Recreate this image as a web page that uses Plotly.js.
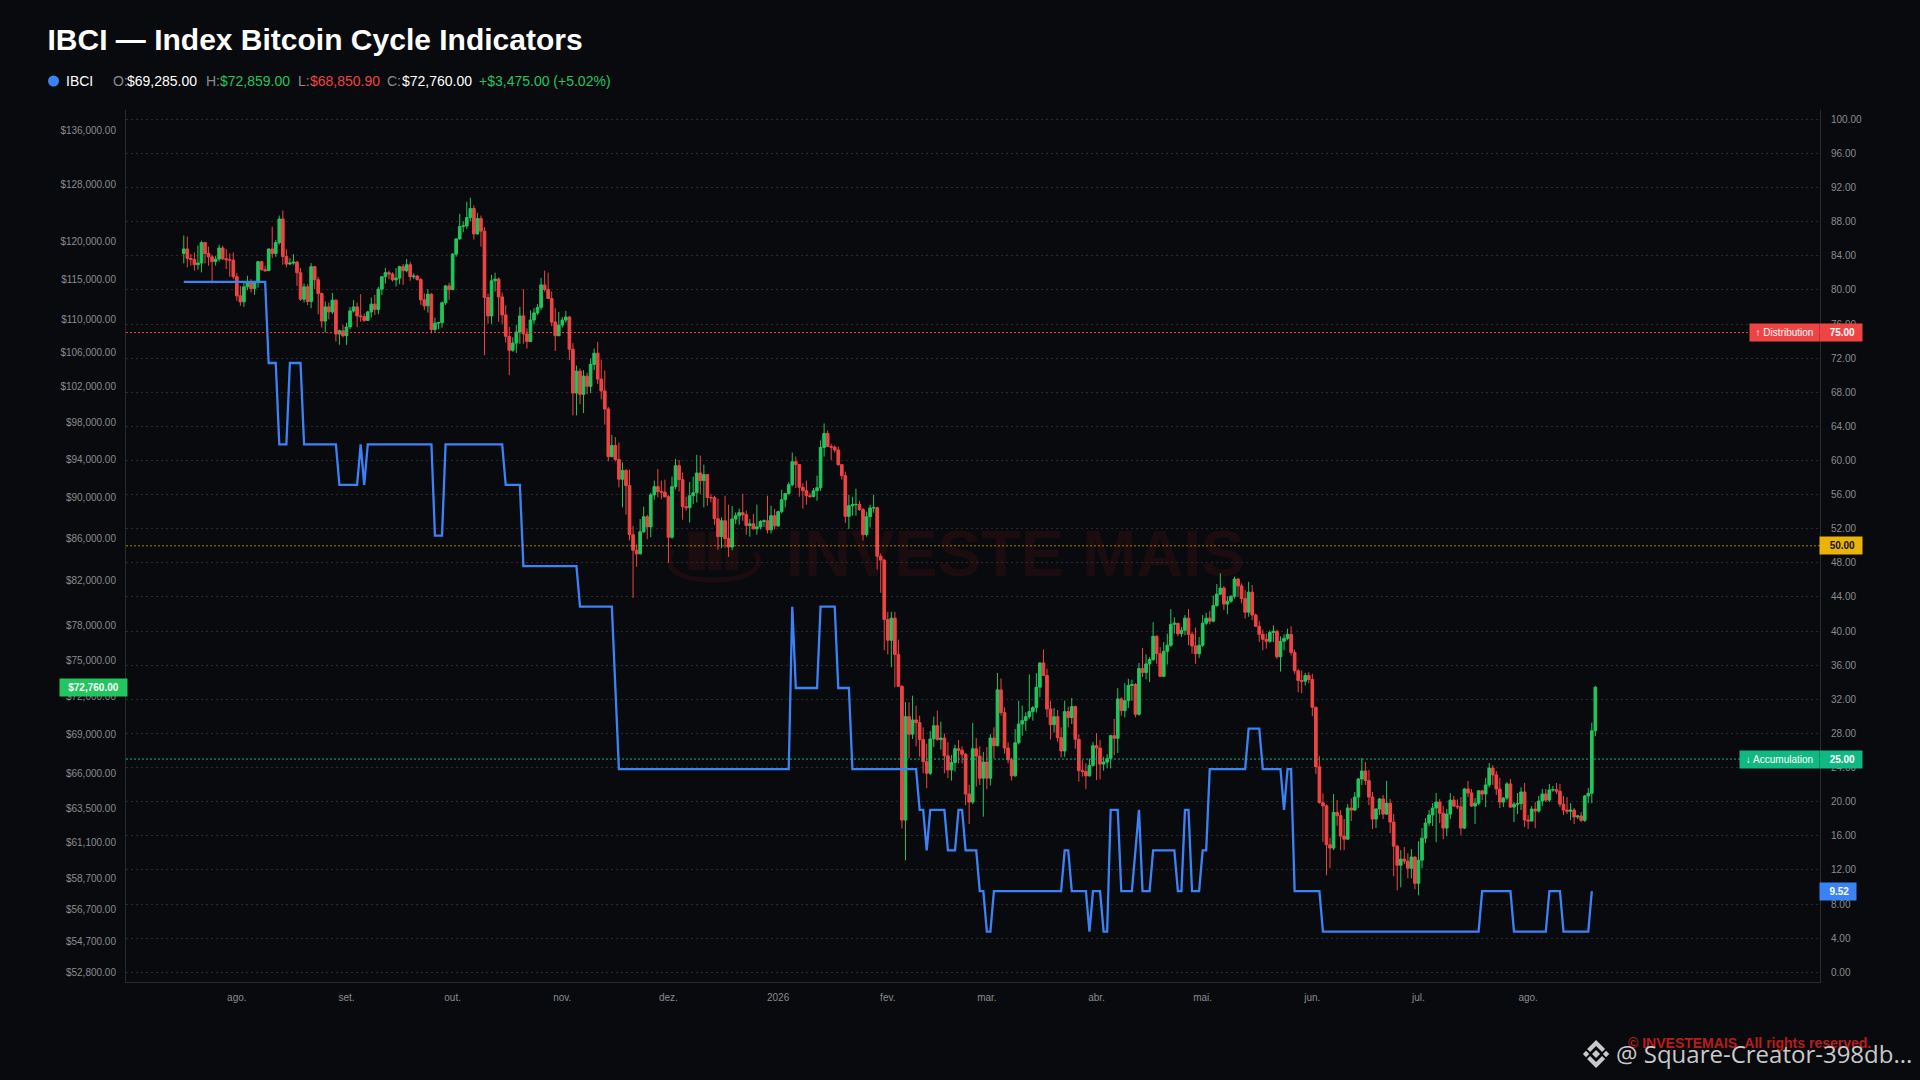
<!DOCTYPE html>
<html>
<head>
<meta charset="utf-8">
<script src="https://cdn.plot.ly/plotly-3.0.1.min.js"></script>
<style>html,body{margin:0;padding:0;background:#090a0d;overflow:hidden}#chart{width:1920px;height:1080px}</style>
</head>
<body>
<div id="chart"></div>
<script>
const firstDay = '2025-07-17';
const opens = [
118450,119050,117790,117660,116960,117180,119900,118450,118000,117390,
117700,119180,117740,117610,117570,115390,112940,112180,114090,114650,
113870,114650,117350,116310,116180,119050,118450,119900,123130,118050,
117050,117180,117310,115920,112520,114090,112230,116700,115000,113230,
109790,111550,110920,112400,108200,108590,108000,109060,111050,111550,
110420,110340,109870,110920,111890,111220,113790,115390,115920,115740,
115000,115220,116700,116180,116960,115390,115480,115040,112440,111680,
113150,108750,109530,109600,112060,114210,113740,118360,120400,122080,
122170,123320,124590,121080,123180,121450,112730,110420,114870,115090,
112810,110550,107920,106240,107100,108440,110420,108200,107290,109910,
110800,111470,114340,113740,112600,109660,108000,109290,109910,110290,
106360,101260,103780,101110,103200,102030,104560,105890,102860,101490,
99460,94270,95460,93980,91910,92810,91250,86360,84860,84520,
86640,88120,87120,90310,91150,90630,90590,90120,86110,91150,
93320,91870,89120,89020,90220,90520,92560,91770,92390,90050,
90020,87920,86170,87720,85990,85170,87890,88220,88520,88320,
87250,87420,86930,87120,87650,87720,86830,88220,87220,88620,
89820,90450,91350,93740,93430,91080,90730,90220,90150,90730,
91040,95250,96760,95350,95280,94990,93430,92280,88160,89220,
89320,89350,88820,86360,88120,88990,89020,84290,83930,78510,
76700,78630,75490,72840,62670,70390,69020,70130,69920,68600,
66920,66050,68650,69680,68600,68720,67360,66300,66860,67900,
67780,67480,64530,63950,67900,67340,65690,66890,65690,68720,
68130,72540,70710,67950,67060,65860,68350,69810,70080,70390,
70790,71110,72760,74770,73720,71000,69760,70390,68750,67730,
70790,70320,71190,68620,66250,66180,65860,66640,68130,67950,
66740,66890,67160,68900,68700,71810,70870,71670,72900,72980,
70580,74300,73970,74690,75060,77040,75550,73650,75750,76270,
78090,78180,77270,77560,78630,77210,76210,75550,76270,78180,
78630,78360,79760,80780,81330,79880,80140,80590,82160,81520,
80380,79160,80960,78900,77920,77210,76780,76610,77380,77470,
75290,76610,76870,77210,75660,74110,73310,73250,73720,73390,
71140,66540,63900,63680,60950,60730,63210,62980,61550,61340,
63520,63380,64310,65630,66220,65510,64310,62740,63450,64170,
63090,63870,62530,60860,59570,59980,59840,59370,60120,58370,
59910,61410,62460,63030,63520,63950,63160,62110,63090,64090,
63660,63610,62110,64900,64610,63660,63870,64760,64530,65190,
66440,65930,64900,63950,64240,65270,63590,63800,63840,64680,
62670,62600,63450,63310,64020,64530,64090,64830,64850,64730,
63800,63380,63290,63380,62890,62960,62650,64390,64580,69285
];
const highs = [
120860,120720,118360,118590,119500,120180,120000,119360,118270,118140,
119630,119500,119050,118450,118590,115870,114210,114650,115520,115090,
114870,117480,117480,116830,119100,122080,120270,123600,124310,119050,
117830,118360,117480,116530,114520,114430,117180,116830,115390,113360,
112230,112100,113320,112480,108750,109290,109580,111550,112400,112100,
113150,110710,111050,112730,113060,114090,115430,116530,116180,115960,
116530,116830,117050,117700,117350,115830,115650,115220,113230,113790,
113280,110210,109700,112230,114340,114610,118500,120500,123840,122800,
125530,126100,125020,123980,123600,122000,113230,115650,115920,115300,
113360,111760,109060,107800,109290,111550,113790,108900,111130,111390,
111890,115220,116180,115920,113490,111390,110920,110290,111050,110420,
107100,104440,104090,103900,103590,105260,106440,107260,105140,103860,
99690,96600,96360,95780,93680,92980,92910,87220,85430,87890,
89120,88320,90520,91770,92980,91770,91870,90310,92180,94030,
93920,92600,90120,91630,92180,94460,94390,93430,92460,90380,
90220,89920,88060,90220,89320,89190,88550,88920,90420,88720,
87890,88390,89320,87790,87850,90220,89220,88890,88720,90830,
90520,91600,94710,94280,93500,91490,91770,90520,91010,92280,
96000,97860,97080,95640,95460,95350,93500,92700,90310,90120,
90940,89720,88990,88620,89320,90310,89120,84560,84050,79190,
79190,79190,76760,72900,71530,71530,72070,71270,70470,69550,
68280,69280,70390,70870,70000,69070,68400,67410,68200,68570,
68080,67580,65200,69890,68720,68080,67660,68030,69020,69550,
73940,73480,71140,68400,67220,69420,71670,71270,70740,73810,
71240,73920,74800,75920,74280,71670,71080,70920,69550,71670,
71190,71880,71270,69020,67040,66790,67160,68420,69090,68570,
67290,67480,68970,70210,72680,71940,73090,73450,73370,73090,
74770,76030,75490,75260,78270,77130,76120,76550,77270,79430,
78690,78210,77860,78900,79430,77410,77800,76980,78900,79100,
79280,80650,81700,82690,81520,80590,80680,82380,82250,81760,
81150,81910,81610,79040,78390,77620,77270,77560,78000,77620,
77040,77210,77710,77920,75900,74270,74140,73940,73990,73860,
71190,67340,64580,63780,61430,64530,64090,63380,62740,63800,
64210,64680,65710,67190,66890,66300,64680,63520,64240,64460,
65490,64170,63090,60930,60590,60800,60380,60660,60160,61200,
62110,62810,63380,63870,64600,64160,63660,63450,64600,64390,
64140,64310,64980,65490,64900,64240,64800,64830,65710,66810,
66660,66220,65710,64310,65410,65630,63950,64600,65020,65340,
63020,63660,63950,64390,64900,64900,65270,65120,65340,65270,
64390,64310,63870,63520,63030,63230,64460,64970,69920,72859
];
const lows = [
117140,116610,116830,116180,116310,115960,117140,116830,114520,116830,
117390,117570,116400,115390,115090,112310,111680,111550,113650,113360,
113060,114000,116180,116050,116180,117830,118000,119630,116960,116610,
116960,116960,114210,112310,112100,111760,111390,113790,110630,108980,
108400,110000,110630,107290,106900,107800,106900,108790,110840,109060,
109700,109700,109800,110210,110550,110630,113060,114520,115090,114780,
114130,114430,114340,115960,114870,115090,114870,111800,111130,110840,
108280,108350,108790,108980,111800,112440,113650,118000,120310,121310,
121760,122800,120310,120990,119360,105650,109450,109450,113490,109700,
109450,107170,103320,106050,105930,107020,107020,106440,107230,109450,
110550,111130,113490,112520,109160,106160,107920,108980,109580,105070,
98750,98750,99980,99010,101110,101260,103900,102280,100550,97740,
93770,94200,93770,91080,89050,88320,85800,80440,83300,84450,
86530,85920,86110,89820,90050,89880,90050,83670,85980,90870,
90660,87820,88720,87550,89390,89550,90380,89050,89220,89550,
87320,84920,85050,85110,84230,84860,87390,87320,87720,86360,
86170,86860,86360,86860,87120,86480,86480,86890,87120,88450,
89050,90310,91180,91010,90120,88920,89320,89990,90050,89720,
90730,94280,95280,93920,94710,93320,91870,87520,86920,88220,
88220,88720,85800,86170,87060,88520,83050,80900,75840,75490,
74410,72760,72780,62080,59900,67160,68650,68080,67290,66050,
64950,65930,68030,68520,67830,66050,65690,65510,66180,66790,
66790,63730,62390,63800,65070,65190,62910,64880,65150,67160,
68080,70470,67530,66790,65510,65810,68230,68900,69280,70210,
70080,70710,71940,73670,70340,68600,69150,68400,67240,67290,
69550,69810,67900,65440,65810,64880,65810,66540,65560,65610,
66250,66420,66420,67410,67580,70470,70340,71090,71670,70340,
70470,73590,73400,73180,74920,74690,73600,73590,74640,76120,
77270,77040,76980,77130,76270,75550,74690,75200,76120,78000,
78090,78270,79640,80680,79340,78980,80000,80380,80530,79940,
78600,78750,78450,77860,76550,75840,75980,76470,76550,75120,
74050,75840,76700,75400,73860,72350,72270,72900,73090,70430,
66000,63850,61150,58900,59370,60590,62270,60590,60590,61300,
62600,63310,63520,65190,65190,63730,62040,62110,63020,62740,
63050,61750,58840,57910,58110,59640,58700,58700,57980,57590,
59370,61060,62250,62250,61130,62460,61340,61550,62740,63610,
63450,61610,62040,64310,63590,62390,63730,64090,63590,65020,
65190,64460,63520,63590,64090,63520,62530,63090,63380,62180,
62040,62600,62110,63190,63660,63950,63950,64690,64530,63590,
63020,63090,62670,62390,62740,62530,62530,63870,63870,68850.9
];
const closes = [
119050,117790,117660,116960,117180,119900,118450,118000,117390,117700,
119180,117740,117610,117570,115390,112940,112180,114090,114650,113870,
114650,117350,116310,116180,119050,118450,119900,123130,118050,117050,
117180,117310,115920,112520,114090,112230,116700,115000,113230,109790,
111550,110920,112400,108200,108590,108000,109060,111050,111550,110420,
110340,109870,110920,111890,111220,113790,115390,115920,115740,115000,
115220,116700,116180,116960,115390,115480,115040,112440,111680,113150,
108750,109530,109600,112060,114210,113740,118360,120400,122080,122170,
123320,124590,121080,123180,121450,112730,110420,114870,115090,112810,
110550,107920,106240,107100,108440,110420,108200,107290,109910,110800,
111470,114340,113740,112600,109660,108000,109290,109910,110290,106360,
101260,103780,101110,103200,102030,104560,105890,102860,101490,99460,
94270,95460,93980,91910,92810,91250,86360,84860,84520,86640,
88120,87120,90310,91150,90630,90590,90120,86110,91150,93320,
91870,89120,89020,90220,90520,92560,91770,92390,90050,90020,
87920,86170,87720,85990,85170,87890,88220,88520,88320,87250,
87420,86930,87120,87650,87720,86830,88220,87220,88620,89820,
90450,91350,93740,93430,91080,90730,90220,90150,90730,91040,
95250,96760,95350,95280,94990,93430,92280,88160,89220,89320,
89350,88820,86360,88120,88990,89020,84290,83930,78510,76700,
78630,75490,72840,62670,70390,69020,70130,69920,68600,66920,
66050,68650,69680,68600,68720,67360,66300,66860,67900,67780,
67480,64530,63950,67900,67340,65690,66890,65690,68720,68130,
72540,70710,67950,67060,65860,68350,69810,70080,70390,70790,
71110,72760,74770,73720,71000,69760,70390,68750,67730,70790,
70320,71190,68620,66250,66180,65860,66640,68130,67950,66740,
66890,67160,68900,68700,71810,70870,71670,72900,72980,70580,
74300,73970,74690,75060,77040,75550,73650,75750,76270,78090,
78180,77270,77560,78630,77210,76210,75550,76270,78180,78630,
78360,79760,80780,81330,79880,80140,80590,82160,81520,80380,
79160,80960,78900,77920,77210,76780,76610,77380,77470,75290,
76610,76870,77210,75660,74110,73310,73250,73720,73390,71140,
66540,63900,63680,60950,60730,63210,62980,61550,61340,63520,
63380,64310,65630,66220,65510,64310,62740,63450,64170,63090,
63870,62530,60860,59570,59980,59840,59370,60120,58370,59910,
61410,62460,63030,63520,63950,63160,62110,63090,64090,63660,
63610,62110,64900,64610,63660,63870,64760,64530,65190,66440,
65930,64900,63950,64240,65270,63590,63800,63840,64680,62670,
62600,63450,63310,64020,64530,64090,64830,64850,64730,63800,
63380,63290,63380,62890,62960,62650,64390,64580,69285,72760
];
const ibci = [
80.95,80.95,80.95,80.95,80.95,80.95,80.95,80.95,80.95,80.95,
80.95,80.95,80.95,80.95,80.95,80.95,80.95,80.95,80.95,80.95,
80.95,80.95,80.95,80.95,71.43,71.43,71.43,61.9,61.9,61.9,
71.43,71.43,71.43,71.43,61.9,61.9,61.9,61.9,61.9,61.9,
61.9,61.9,61.9,61.9,57.14,57.14,57.14,57.14,57.14,57.14,
61.9,57.14,61.9,61.9,61.9,61.9,61.9,61.9,61.9,61.9,
61.9,61.9,61.9,61.9,61.9,61.9,61.9,61.9,61.9,61.9,
61.9,51.19,51.19,51.19,61.9,61.9,61.9,61.9,61.9,61.9,
61.9,61.9,61.9,61.9,61.9,61.9,61.9,61.9,61.9,61.9,
61.9,57.14,57.14,57.14,57.14,57.14,47.62,47.62,47.62,47.62,
47.62,47.62,47.62,47.62,47.62,47.62,47.62,47.62,47.62,47.62,
47.62,47.62,42.86,42.86,42.86,42.86,42.86,42.86,42.86,42.86,
42.86,42.86,33.33,23.81,23.81,23.81,23.81,23.81,23.81,23.81,
23.81,23.81,23.81,23.81,23.81,23.81,23.81,23.81,23.81,23.81,
23.81,23.81,23.81,23.81,23.81,23.81,23.81,23.81,23.81,23.81,
23.81,23.81,23.81,23.81,23.81,23.81,23.81,23.81,23.81,23.81,
23.81,23.81,23.81,23.81,23.81,23.81,23.81,23.81,23.81,23.81,
23.81,23.81,42.86,33.33,33.33,33.33,33.33,33.33,33.33,33.33,
42.86,42.86,42.86,42.86,42.86,33.33,33.33,33.33,33.33,23.81,
23.81,23.81,23.81,23.81,23.81,23.81,23.81,23.81,23.81,23.81,
23.81,23.81,23.81,23.81,23.81,23.81,23.81,23.81,19.05,19.05,
14.29,19.05,19.05,19.05,19.05,19.05,14.29,14.29,14.29,19.05,
19.05,14.29,14.29,14.29,14.29,9.52,9.52,4.76,4.76,9.52,
9.52,9.52,9.52,9.52,9.52,9.52,9.52,9.52,9.52,9.52,
9.52,9.52,9.52,9.52,9.52,9.52,9.52,9.52,9.52,14.29,
14.29,9.52,9.52,9.52,9.52,9.52,4.76,9.52,9.52,9.52,
4.76,4.76,19.05,19.05,19.05,9.52,9.52,9.52,9.52,14.29,
19.05,9.52,9.52,9.52,14.29,14.29,14.29,14.29,14.29,14.29,
14.29,9.52,9.52,19.05,19.05,9.52,9.52,9.52,14.29,14.29,
23.81,23.81,23.81,23.81,23.81,23.81,23.81,23.81,23.81,23.81,
23.81,28.57,28.57,28.57,28.57,23.81,23.81,23.81,23.81,23.81,
23.81,19.05,23.81,23.81,9.52,9.52,9.52,9.52,9.52,9.52,
9.52,9.52,4.76,4.76,4.76,4.76,4.76,4.76,4.76,4.76,
4.76,4.76,4.76,4.76,4.76,4.76,4.76,4.76,4.76,4.76,
4.76,4.76,4.76,4.76,4.76,4.76,4.76,4.76,4.76,4.76,
4.76,4.76,4.76,4.76,4.76,4.76,4.76,4.76,4.76,4.76,
4.76,4.76,4.76,4.76,4.76,4.76,4.76,9.52,9.52,9.52,
9.52,9.52,9.52,9.52,9.52,9.52,4.76,4.76,4.76,4.76,
4.76,4.76,4.76,4.76,4.76,4.76,9.52,9.52,9.52,9.52,
4.76,4.76,4.76,4.76,4.76,4.76,4.76,4.76,9.52
];
const priceTicks = [136000,128000,120000,115000,110000,106000,102000,98000,94000,90000,86000,82000,78000,75000,72000,69000,66000,63500,61100,58700,56700,54700,52800];
const monthTicks = ['2025-08-01','2025-09-01','2025-10-01','2025-11-01','2025-12-01','2026-01-01','2026-02-01','2026-03-01','2026-04-01','2026-05-01','2026-06-01','2026-07-01','2026-08-01'];
const monthLabels = ['ago.','set.','out.','nov.','dez.','2026','fev.','mar.','abr.','mai.','jun.','jul.','ago.'];
const levelValues = [75, 50, 25];
const levelNames = ['↑ Distribution', '', '↓ Accumulation'];
const lastClose = 72760;
const lastIbci = 9.52;

const GREEN = '#22c55e', RED = '#ef4444', BLUE = '#3b82f6', TEAL = '#10b981', YELLOW = '#eab308';
const BG = '#090a0d', TICK = '#8a8a8e', AXIS = '#2a2b2f', GRID = '#2a2b2e';
const FONT = '"Liberation Sans", Arial, sans-serif';
const L = 125.5, R = 1820, T = 110, B = 982;
const px = x => (x - L) / (R - L);
const py = y => (B - y) / (B - T);

const start = Date.parse(firstDay + 'T00:00:00Z');
const dates = closes.map((_, i) => new Date(start + i * 86400000).toISOString().slice(0, 10));
const money = v => '$' + v.toLocaleString('en-US', {minimumFractionDigits: 2, maximumFractionDigits: 2});

const traces = [
  {
    type: 'candlestick', x: dates, open: opens, high: highs, low: lows, close: closes,
    xaxis: 'x', yaxis: 'y', whiskerwidth: 0, showlegend: false, hoverinfo: 'skip',
    increasing: {line: {color: GREEN, width: 1}, fillcolor: GREEN},
    decreasing: {line: {color: RED, width: 1}, fillcolor: RED}
  },
  {
    type: 'scatter', mode: 'lines', x: dates.slice(0, ibci.length), y: ibci,
    xaxis: 'x', yaxis: 'y2', showlegend: false, hoverinfo: 'skip',
    line: {color: BLUE, width: 2.3, shape: 'linear'}
  }
];

const levelColors = [RED, YELLOW, TEAL];
const shapes = levelValues.map((v, i) => ({
  type: 'line', xref: 'paper', x0: 0, x1: 1, yref: 'y2', y0: v, y1: v, layer: 'above',
  opacity: i === 1 ? 0.7 : 1,
  line: {color: levelColors[i], width: 1, dash: '2px,2px'}
}));

// Faint logo of the watermark and the small Binance mark of the footer
const WM = 'rgba(226,52,52,0.085)';
const poly = pts => 'M' + pts.map(p => px(p[0]) + ',' + py(p[1])).join(' L') + ' Z';
[[688,705],[708,721],[725,738]].forEach(b => shapes.push({
  type: 'rect', xref: 'paper', yref: 'paper', layer: 'below', line: {width: 0}, fillcolor: WM,
  x0: px(b[0]), x1: px(b[1]), y0: py(570), y1: py(532)
}));
shapes.push({
  type: 'path', xref: 'paper', yref: 'paper', layer: 'below', line: {color: WM, width: 5},
  path: 'M' + px(672) + ',' + py(550) + ' C' + px(660) + ',' + py(575) + ' ' + px(690) + ',' + py(580) + ' ' + px(713) + ',' + py(580)
      + ' C' + px(740) + ',' + py(580) + ' ' + px(768) + ',' + py(572) + ' ' + px(755) + ',' + py(552)
});
const MARK = '#c9c9c9';
const diamond = (cx, cy, r) => poly([[cx, cy - r], [cx + r, cy], [cx, cy + r], [cx - r, cy]]);
[diamond(1596, 1054, 4), diamond(1586, 1054, 3.2), diamond(1606, 1054, 3.2),
 poly([[1596,1040],[1605,1049],[1602,1052],[1596,1046],[1590,1052],[1587,1049]]),
 poly([[1596,1068],[1605,1059],[1602,1056],[1596,1062],[1590,1056],[1587,1059]])
].forEach(p => shapes.push({type: 'path', xref: 'paper', yref: 'paper', layer: 'above', path: p, fillcolor: MARK, line: {width: 0}}));
shapes.push({type: 'circle', xref: 'paper', yref: 'paper', layer: 'above', fillcolor: BLUE, line: {width: 0},
  x0: px(47.5), x1: px(58.5), y0: py(86.5), y1: py(75.5)});

const text = (x, y, s, color, size, extra) => Object.assign({
  xref: 'paper', yref: 'paper', x: px(x - 2.5), y: py(y), text: s, showarrow: false,
  xanchor: 'left', yanchor: 'middle', font: {family: FONT, size: size, color: color}
}, extra || {});
const tag = (x0, x1, yval, yref, s, bg, color) => ({
  xref: 'paper', x: px((x0 + x1) / 2), yref: yref, y: yval, text: s, showarrow: false,
  xanchor: 'center', yanchor: 'middle', width: x1 - x0, height: 17, bgcolor: bg, borderpad: 0,
  align: 'center', valign: 'middle', font: {family: FONT, size: 10, color: color}
});

const annotations = [
  text(66, 81, 'IBCI', '#ffffff', 14),
  text(112.7, 81, 'O:', TICK, 14), text(127.4, 81, money(opens[399]), '#ffffff', 14),
  text(205.7, 81, 'H:', TICK, 14), text(220, 81, money(highs[399]), GREEN, 14),
  text(297.6, 81, 'L:', TICK, 14), text(310, 81, money(lows[399]), RED, 14),
  text(387, 81, 'C:', TICK, 14), text(401.6, 81, money(closes[399]), '#ffffff', 14),
  text(478.8, 81, '+$3,475.00 (+5.02%)', GREEN, 14),
  text(786, 553, '<b>INVESTE MAIS</b>', WM, 65),
  tag(1750, 1819, levelValues[0], 'y2', levelNames[0], RED, '#ffffff'),
  tag(1740, 1819, levelValues[2], 'y2', levelNames[2], TEAL, '#ffffff'),
  tag(1820, 1862, levelValues[0], 'y2', '&nbsp;<b>75.00</b>', RED, '#ffffff'),
  tag(1820, 1862, levelValues[1], 'y2', '&nbsp;<b>50.00</b>', YELLOW, '#111111'),
  tag(1820, 1862, levelValues[2], 'y2', '&nbsp;<b>25.00</b>', TEAL, '#ffffff'),
  tag(1820, 1856, lastIbci, 'y2', '&nbsp;<b>9.52</b>', BLUE, '#ffffff'),
  tag(59, 126, Math.log10(lastClose), 'y', '<b>' + money(lastClose) + '</b>', GREEN, '#ffffff'),
  text(1628, 1043, '<b>© INVESTEMAIS. All rights reserved.</b>', '#b91c1c', 14),
  text(1616, 1053, '@ Square-Creator-398db...', '#c9c9c9', 24, {font: {family: '"Open Sans", sans-serif', size: 24, color: '#c9c9c9'}})
];

const layout = {
  width: 1920, height: 1080,
  paper_bgcolor: BG, plot_bgcolor: BG,
  margin: {l: L, r: 1920 - R, t: T, b: 1080 - B, pad: 0},
  showlegend: false, hovermode: false, dragmode: false, boxgap: 0.25, boxgroupgap: 0,
  title: {
    text: '<b>IBCI — Index Bitcoin Cycle Indicators</b>', xref: 'container', yref: 'container',
    x: 47.5 / 1920, xanchor: 'left', y: 1 - 39 / 1080, yanchor: 'middle',
    font: {family: FONT, size: 30, color: '#ffffff'}
  },
  xaxis: {
    type: 'date', range: ['2025-06-30 16:05', '2026-10-22 12:00'],
    rangeslider: {visible: false}, showgrid: false, zeroline: false,
    showline: true, linecolor: AXIS, linewidth: 1,
    tickmode: 'array', tickvals: monthTicks, ticktext: monthLabels,
    ticks: 'outside', ticklen: 6, tickcolor: 'rgba(0,0,0,0)',
    tickfont: {family: FONT, size: 10, color: TICK}
  },
  yaxis: {
    type: 'log', range: [4.71804, 5.14354], side: 'left',
    showgrid: false, zeroline: false, showline: true, linecolor: AXIS, linewidth: 1,
    tickmode: 'array', tickvals: priceTicks, ticktext: priceTicks.map(money),
    ticks: 'outside', ticklen: 7, tickcolor: 'rgba(0,0,0,0)',
    tickfont: {family: FONT, size: 10, color: TICK}
  },
  yaxis2: {
    type: 'linear', range: [-1.137, 101.09], side: 'right', overlaying: 'y',
    showgrid: true, gridcolor: GRID, gridwidth: 1, griddash: '2px,3px', zeroline: false,
    showline: true, linecolor: AXIS, linewidth: 1,
    tick0: 0, dtick: 4, tickformat: '.2f',
    ticks: 'outside', ticklen: 8, tickcolor: 'rgba(0,0,0,0)',
    tickfont: {family: FONT, size: 10, color: TICK}
  },
  shapes: shapes, annotations: annotations
};

Plotly.newPlot('chart', traces, layout, {displayModeBar: false, staticPlot: true, responsive: false});
</script>
</body>
</html>
